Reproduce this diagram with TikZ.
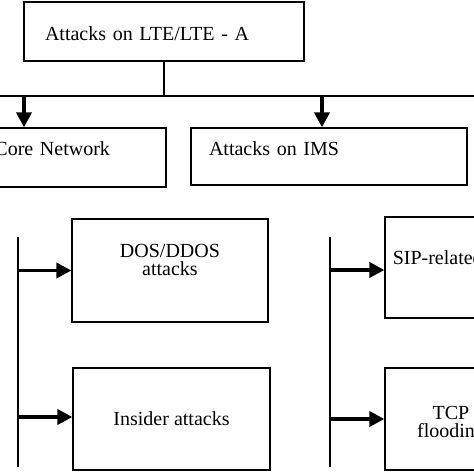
\documentclass[tikz,border=0pt]{standalone}
\usepackage{fontspec}
\setmainfont{Liberation Serif}
\usetikzlibrary{arrows.meta, positioning}

\begin{document}
\begin{tikzpicture}[x=1pt,y=-1pt,
    box/.style={draw,rectangle,line width=1.2pt,inner sep=0pt},
    lead/.style={line width=1.3pt},
    push/.style={line width=3.5pt,-{Triangle[length=15pt,width=15pt]}},
    font=\fontsize{20}{18}\selectfont]

  \useasboundingbox (0,0) rectangle (474,474);
  \clip (0,0) rectangle (474,474);

  % top level
  \node[box,minimum width=280,minimum height=59,text width=238,align=left,text height=22pt,text depth=4pt] (lte) at (164,31.5) {Attacks on LTE/LTE - A};

  % second level
  \node[box,minimum width=284,minimum height=59,text width=248,align=left,text height=14pt,text depth=18pt] (core) at (24,157.5) {Attacks on Core Network};
  \node[box,minimum width=276,minimum height=57,text width=240,align=left,text height=14pt,text depth=16pt] (ims) at (329,156.5) {Attacks on IMS};

  \coordinate (busL) at (0,96);
  \coordinate (busR) at (474,96);
  \draw[lead] (lte.south) -- (lte.south |- busL);
  \draw[lead] (busL) -- (busR);
  \draw[push] (core.north |- busL) -- (core.north);
  \draw[push] ([xshift=-7]ims.north |- busL) -- ([xshift=-7]ims.north);

  % third level
  \node[box,minimum width=196,minimum height=103,align=center] (dos) at (170,270.5) {DOS/DDOS\\attacks\\[4pt]};
  \node[box,minimum width=197,minimum height=102,align=center] (insider) at (171.5,419) {Insider attacks};
  \node[box,minimum width=166,minimum height=101,align=center] (sip) at (468,267.5) {SIP-related attacks\\[2pt]};
  \node[box,minimum width=132,minimum height=102,align=center] (tcp) at (451,419) {\rule{0pt}{24pt}TCP\\flooding};

  \coordinate (spineLtop) at (18,237);
  \coordinate (spineLbot) at (18,467);
  \coordinate (spineRtop) at (330,237);
  \coordinate (spineRbot) at (330,467);
  \draw[lead] (spineLtop) -- (spineLbot);
  \draw[lead] (spineRtop) -- (spineRbot);

  \draw[push] (spineLtop |- dos.west) -- (dos.west);
  \draw[push] (spineLtop |- 0,417) -- (insider.west |- 0,417);
  \draw[push] (spineRtop |- 0,270) -- (sip.west |- 0,270);
  \draw[push] (spineRtop |- tcp.west) -- (tcp.west);
\end{tikzpicture}
\end{document}
